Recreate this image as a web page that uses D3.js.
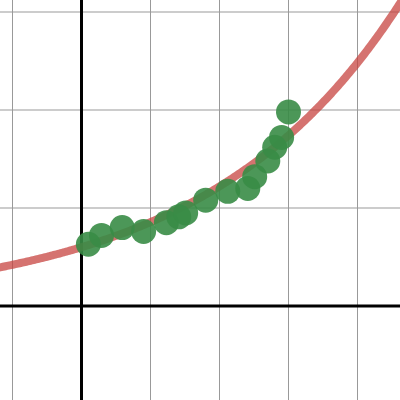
<!DOCTYPE html>
<html><head><meta charset="utf-8">
<script src="https://cdn.jsdelivr.net/npm/d3@7"></script>
<style>body{margin:0;background:#fff}svg{display:block}</style>
</head><body><svg width="400" height="400"></svg>
<script>
const xs = [0.10,0.29,0.59,0.90,1.23,1.41,1.51,1.80,2.12,2.41,2.51,2.70,2.80,2.90,3.00];
const ys = [0.63,0.72,0.80,0.76,0.85,0.91,0.95,1.08,1.17,1.20,1.32,1.48,1.62,1.72,1.98];
const fitA = 0.60, fitK = 0.355;
const gridX = [-1,0,1,2,3,4,5];
const gridY = [-1,0,1,2,3,4];

const svg = d3.select("svg");
const x = d3.scaleLinear().domain([-81.5/69, (400-81.5)/69]).range([0,400]);
const y = d3.scaleLinear().domain([-(400-306)/98, 306/98]).range([400,0]);

svg.append("g").selectAll("line").data(gridX).join("line")
  .attr("x1",d=>x(d)).attr("x2",d=>x(d)).attr("y1",0).attr("y2",400)
  .attr("stroke","#999").attr("stroke-width",1);
svg.append("g").selectAll("line").data(gridY).join("line")
  .attr("y1",d=>y(d)).attr("y2",d=>y(d)).attr("x1",0).attr("x2",400)
  .attr("stroke","#999").attr("stroke-width",1);
svg.append("line").attr("x1",x(0)).attr("x2",x(0)).attr("y1",0).attr("y2",400).attr("stroke","#000").attr("stroke-width",3);
svg.append("line").attr("y1",y(0)).attr("y2",y(0)).attr("x1",0).attr("x2",400).attr("stroke","#000").attr("stroke-width",3);

const samples = d3.range(-1.3, 4.8, 0.02);
svg.append("path").datum(samples)
  .attr("d", d3.line().x(d=>x(d)).y(d=>y(fitA*Math.exp(fitK*d))))
  .attr("fill","none").attr("stroke","#c74440").attr("stroke-opacity",0.75).attr("stroke-width",8);

svg.append("g").selectAll("circle").data(xs).join("circle")
  .attr("cx",d=>x(d)).attr("cy",(d,i)=>y(ys[i])).attr("r",12.5)
  .attr("fill","#388c46").attr("fill-opacity",0.9);
</script></body></html>
